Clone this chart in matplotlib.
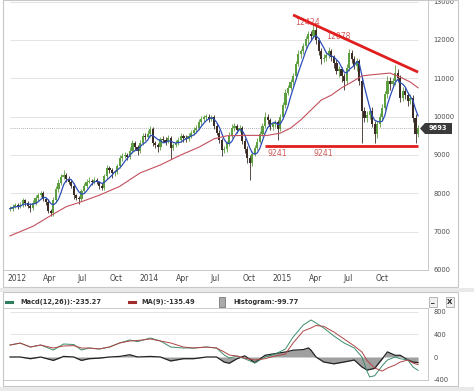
import numpy as np
import pandas as pd
import matplotlib
matplotlib.use("Agg")
import matplotlib.pyplot as plt
from matplotlib.patches import Rectangle, Polygon
from matplotlib.lines import Line2D

W, H = 474, 391

# weekly closes, first candle mid-Dec 2012
closes = [
    7600, 7650, 7700, 7660, 7690, 7820, 7750, 7680, 7610, 7750,
    7880, 7950, 8000, 7850, 7780, 7550, 7480, 7830, 8100, 8270,
    8420, 8480, 8380, 8300, 8200, 7950, 7880, 7850, 8050, 8200,
    8300, 8330, 8300, 8350, 8290, 8200, 8140, 8450, 8650, 8600,
    8520, 8550, 8700, 8930, 8980, 9000, 8950, 9110, 9300, 9200,
    9100, 9320, 9500, 9480, 9550, 9680, 9320, 9250, 9200, 9420,
    9400, 9350, 9450, 9190, 9250, 9320, 9400, 9500, 9450, 9420,
    9500, 9580, 9650, 9710, 9850, 9940, 9980, 10000, 9950, 9980,
    9760, 9580, 9400, 9120, 9150, 9300, 9500, 9710, 9750, 9650,
    9710, 9370, 9150, 8930, 8780, 9030, 9190, 9350, 9550, 9750,
    9990, 9900, 9720, 9800, 9850, 9680, 10000, 10300, 10620, 10750,
    10900, 11050, 11370, 11630, 11700, 11830, 12020, 12150, 12100, 12270,
    12000, 11700, 11500, 11530, 11600, 11700, 11550, 11400, 11190, 11240,
    11050, 10930, 11270, 11650, 11500, 11320, 11450, 10930, 10150, 9970,
    10050, 10150, 9810, 9550, 9810, 10000, 10230, 10590, 10930, 10850,
    10930, 11140, 11000, 10490, 10670, 10550, 10410, 10490, 9970, 9550,
    9693,
]
first_open = 7580
upper_wick = [
    60, 80, 60, 50, 90, 60, 40, 50, 60, 70,
    80, 60, 70, 50, 40, 60, 50, 70, 90, 100,
    80, 120, 60, 70, 50, 60, 40, 60, 70, 80,
    60, 90, 50, 70, 60, 40, 80, 60, 90, 70,
    50, 60, 70, 80, 60, 70, 50, 90, 100, 60,
    60, 80, 70, 60, 90, 80, 60, 50, 70, 60,
    70, 60, 80, 50, 60, 70, 60, 80, 50, 60,
    60, 80, 70, 60, 90, 70, 60, 80, 60, 70,
    50, 60, 70, 50, 80, 60, 90, 100, 80, 60,
    70, 50, 60, 80, 60, 70, 60, 80, 70, 90,
    120, 80, 60, 70, 60, 50, 80, 70, 90, 80,
    70, 90, 80, 100, 70, 80, 90, 80, 70, 154,
    80, 60, 90, 100, 80, 120, 70, 60, 90, 80,
    60, 80, 90, 100, 80, 90, 70, 60, 80, 90,
    90, 80, 100, 70, 80, 90, 100, 80, 120, 100,
    80, 200, 90, 80, 100, 90, 80, 100, 80, 90,
    80,
]
lower_wick = [
    50, 60, 40, 80, 40, 50, 70, 60, 90, 50,
    50, 70, 40, 60, 80, 70, 70, 60, 50, 60,
    60, 50, 80, 60, 70, 90, 60, 120, 50, 40,
    50, 40, 80, 60, 50, 100, 60, 50, 70, 60,
    120, 60, 40, 50, 80, 60, 70, 50, 60, 80,
    90, 60, 50, 80, 60, 70, 90, 80, 120, 60,
    60, 80, 50, 290, 60, 50, 70, 60, 100, 80,
    50, 60, 70, 60, 50, 60, 80, 60, 90, 70,
    80, 70, 90, 150, 60, 70, 60, 50, 80, 90,
    60, 80, 100, 150, 430, 60, 70, 60, 50, 60,
    50, 90, 80, 70, 60, 300, 60, 50, 70, 60,
    60, 80, 70, 60, 90, 60, 80, 100, 90, 60,
    100, 90, 120, 80, 90, 70, 100, 120, 90, 150,
    150, 230, 80, 90, 100, 80, 120, 100, 850, 100,
    100, 120, 80, 250, 100, 80, 90, 70, 100, 150,
    80, 100, 110, 120, 90, 100, 130, 90, 110, 250,
    70,
]

# long moving average (red): week index, value
ma_long_week = [0, 9, 16, 22, 28, 35, 43, 51, 59, 67, 74, 80, 85, 93, 101,
                106, 110, 114, 118, 122, 126, 130, 134, 138, 141, 145, 149,
                153, 157, 160]
ma_long_val = [6890, 7140, 7420, 7650, 7780, 7950, 8180, 8530, 8740, 9000,
               9200, 9420, 9500, 9510, 9510, 9570, 9700, 9910, 10170, 10430,
               10560, 10750, 10900, 11060, 11085, 11110, 11135, 11030, 10900,
               10750]

# MACD panel
macd_week = [0, 4, 8, 12, 17, 21, 25, 28, 31, 35, 39, 43, 47, 50, 55, 59, 63,
             68, 72, 77, 81, 84, 86, 89, 92, 96, 100, 104, 108, 111, 115, 118,
             120, 123, 127, 131, 135, 138, 140, 141, 143, 146, 148, 151, 153,
             156, 158, 160]
macd_val = [211, 245, 176, 211, 123, 229, 220, 123, 158, 141, 176, 247, 300,
            270, 335, 282, 176, 158, 158, 176, 158, 35, -18, 17, -30, -106, 0,
            53, 141, 352, 564, 652, 600, 511, 370, 247, 158, 0, -250, -350,
            -330, -150, -53, 0, -30, -53, -176, -235]
signal_val = [211, 245, 176, 211, 158, 194, 200, 158, 158, 141, 176, 247, 282,
              290, 317, 282, 247, 176, 158, 176, 158, 88, 35, 17, -20, -53, -30,
              18, 53, 247, 458, 511, 555, 540, 440, 317, 194, 88, -60, -106,
              -194, -247, -194, -141, -88, -53, -106, -135]
hist_week = [0, 4, 8, 12, 17, 21, 25, 28, 31, 35, 39, 43, 47, 50, 55, 59, 63,
             68, 72, 77, 81, 84, 86, 89, 92, 96, 100, 104, 108, 111, 115, 117,
             118, 120, 123, 127, 131, 135, 138, 140, 143, 146, 148, 151, 153,
             156, 158, 160]
hist_val = [0, 0, -30, 0, -60, 10, 0, -60, -30, -20, 0, 10, 40, 0, 10, 0, -70,
            -30, -30, 0, 0, -90, -110, -30, 20, -100, 30, 60, 88, 120, 130, 160,
            120, 0, -88, -120, -88, -53, -176, -230, -200, -30, 90, 30, 30, -53,
            -88, -100]

start_date = "2012-12-14"
xtick_dates = ["2013-01-01", "2013-04-01", "2013-07-01", "2013-10-01",
               "2014-01-01", "2014-04-01", "2014-07-01", "2014-10-01",
               "2015-01-01", "2015-04-01", "2015-07-01", "2015-10-01"]
xtick_labels = ["2012", "Apr", "Jul", "Oct", "2014", "Apr", "Jul", "Oct",
                "2015", "Apr", "Jul", "Oct"]
price_ticks = [6000, 7000, 8000, 9000, 10000, 11000, 12000, 13000]
macd_ticks = [-400, 0, 400, 800]

resist_week = [111, 160]
resist_val = [12650, 11160]
support_week = [100, 160]
support_val = [9241, 9241]
last_price = 9693


def fx(x):
    return x / W


def fy(y):
    return 1 - y / H


fig = plt.figure(figsize=(W / 100, H / 100), dpi=100)
fig.patch.set_facecolor("white")

# panel frames
frame_col = "#c8c8c8"
fig.add_artist(Rectangle((fx(3), fy(287)), 455 / W, 287 / H, fill=False,
                         ec=frame_col, lw=0.8, transform=fig.transFigure))
fig.add_artist(Rectangle((fx(0), fy(292)), 474 / W, 4 / H, fc="#e9e9e9",
                         ec="none", transform=fig.transFigure))
fig.add_artist(Rectangle((fx(3), fy(386)), 455 / W, 94 / H, fill=False,
                         ec=frame_col, lw=0.8, transform=fig.transFigure))
fig.add_artist(Rectangle((fx(0), fy(391)), 474 / W, 4 / H, fc="#e9e9e9",
                         ec="none", transform=fig.transFigure))

# ---- price panel
ax = fig.add_axes([fx(3), fy(270), 425 / W, 270 / H])
n = len(closes)
x = np.arange(n)
c = np.array(closes, dtype=float)
o = np.concatenate([[first_open], c[:-1]])
hi = np.maximum(o, c) + np.array(upper_wick)
lo = np.minimum(o, c) - np.array(lower_wick)
up = c >= o

ax.hlines(price_ticks[1:], 0, n - 1, color="#dedede", lw=0.6, zorder=0)
ax.hlines(last_price, 0, n - 1, color="#9a9a9a", lw=0.6, ls=(0, (1, 1.5)),
          zorder=1)

green = "#5c9e40"
dark = "#3a2c24"
cols = np.where(up, green, dark)
ax.vlines(x, lo, hi, colors=cols, lw=0.6, zorder=2)
body = np.maximum(np.abs(c - o), 25)
ax.bar(x, body, bottom=np.minimum(o, c), width=0.85, color=cols, lw=0,
       zorder=3)

ma_short = pd.Series(c).rolling(5, min_periods=1).mean()
ax.plot(x, ma_short, color="#2b4db8", lw=0.9, zorder=4)
ax.plot(ma_long_week, ma_long_val, color="#c4505e", lw=0.8, zorder=4)

lbl_col = "#d45a5a"
ax.text(116.5, 12466, "12424", color=lbl_col, fontsize=5.6, ha="center",
        va="center", zorder=4)
ax.text(128.6, 12100, "12078", color=lbl_col, fontsize=5.6, ha="center",
        va="center", zorder=4)
ax.text(104.7, 9050, "9241", color=lbl_col, fontsize=5.6, ha="center",
        va="center", zorder=4)
ax.text(122.7, 9050, "9241", color=lbl_col, fontsize=5.6, ha="center",
        va="center", zorder=4)

ax.plot(resist_week, resist_val, color="#e01e1e", lw=2.0,
        solid_capstyle="butt", zorder=5)
ax.plot(support_week, support_val, color="#e01e1e", lw=2.0,
        solid_capstyle="butt", zorder=5)

start = pd.Timestamp(start_date)
xt = [(pd.Timestamp(d) - start).days / 7 for d in xtick_dates]
ax.set_xticks(xt)
ax.set_xticklabels(xtick_labels)
ax.set_xlim(-2.75, 163.9)
ax.set_ylim(6000, 13040)
ax.yaxis.tick_right()
ax.set_yticks(price_ticks)
ax.set_yticklabels([str(t) for t in price_ticks])
ax.tick_params(axis="y", length=0, pad=4, labelsize=4.8, labelcolor="#4a4a4a")
ax.tick_params(axis="x", length=0, pad=3, labelsize=5.5, labelcolor="#444444")
ax.spines["top"].set_visible(False)
for s in ["left", "right", "bottom"]:
    ax.spines[s].set_color(frame_col)
    ax.spines[s].set_linewidth(0.7)

# last price tag
tag_y = 128.5
fig.add_artist(Polygon([(fx(420), fy(tag_y)), (fx(425), fy(tag_y - 5.5)),
                        (fx(452), fy(tag_y - 5.5)), (fx(452), fy(tag_y + 5.5)),
                        (fx(425), fy(tag_y + 5.5))], closed=True,
                       fc="#3a3a3a", ec="none", transform=fig.transFigure))
fig.text(fx(438), fy(tag_y), str(last_price), color="white", fontsize=4.8,
         weight="bold", ha="center", va="center")

# ---- MACD panel
mx = fig.add_axes([fx(3), fy(380), 425 / W, 72 / H])
mx.hlines([400, 800], 0, n - 1, color="#dedede", lw=0.6, zorder=0)
mx.fill_between(hist_week, hist_val, 0, color="#a0a0a0", lw=0, zorder=1)
mx.plot(hist_week, hist_val, color="#222222", lw=0.9, zorder=2)
mx.plot(macd_week, macd_val, color="#3c8c6c", lw=0.7, zorder=3)
mx.plot(macd_week, signal_val, color="#b04444", lw=0.7, zorder=3)
mx.set_xlim(-2.75, 163.9)
mx.set_ylim(-405, 863)
mx.set_xticks([])
mx.yaxis.tick_right()
mx.set_yticks(macd_ticks)
mx.set_yticklabels([str(t) for t in macd_ticks])
mx.tick_params(axis="y", length=0, pad=4, labelsize=4.8, labelcolor="#4a4a4a")
for s in mx.spines.values():
    s.set_color(frame_col)
    s.set_linewidth(0.7)

# header / legend row
hy = 302
fig.add_artist(Line2D([fx(6), fx(12)], [fy(hy), fy(hy)], color="#2f7f5f",
                      lw=2.2, transform=fig.transFigure))
fig.text(fx(20), fy(hy), "Macd(12,26)):-235.27", fontsize=4.8, weight="bold",
         color="#333333", va="center")
fig.add_artist(Line2D([fx(129), fx(135)], [fy(hy), fy(hy)], color="#a02c2c",
                      lw=2.2, transform=fig.transFigure))
fig.text(fx(141), fy(hy), "MA(9):-135.49", fontsize=4.8, weight="bold",
         color="#333333", va="center")
fig.add_artist(Rectangle((fx(219), fy(307)), 6 / W, 10 / H, fc="#aaaaaa",
                         ec="#666666", lw=0.5, transform=fig.transFigure))
fig.text(fx(233), fy(hy), "Histogram:-99.77", fontsize=4.8, weight="bold",
         color="#333333", va="center")

for bx, sym in [(429, "_"), (446, "X")]:
    fig.add_artist(Rectangle((fx(bx), fy(307)), 8 / W, 10 / H, fc="#f0f0f0",
                             ec="#9a9a9a", lw=0.5, transform=fig.transFigure))
    fig.text(fx(bx + 4), fy(hy - (1 if sym == "_" else 0)), sym, fontsize=5,
             weight="bold", color="#222222", ha="center", va="center")

fig.savefig("out.png", dpi=100)
